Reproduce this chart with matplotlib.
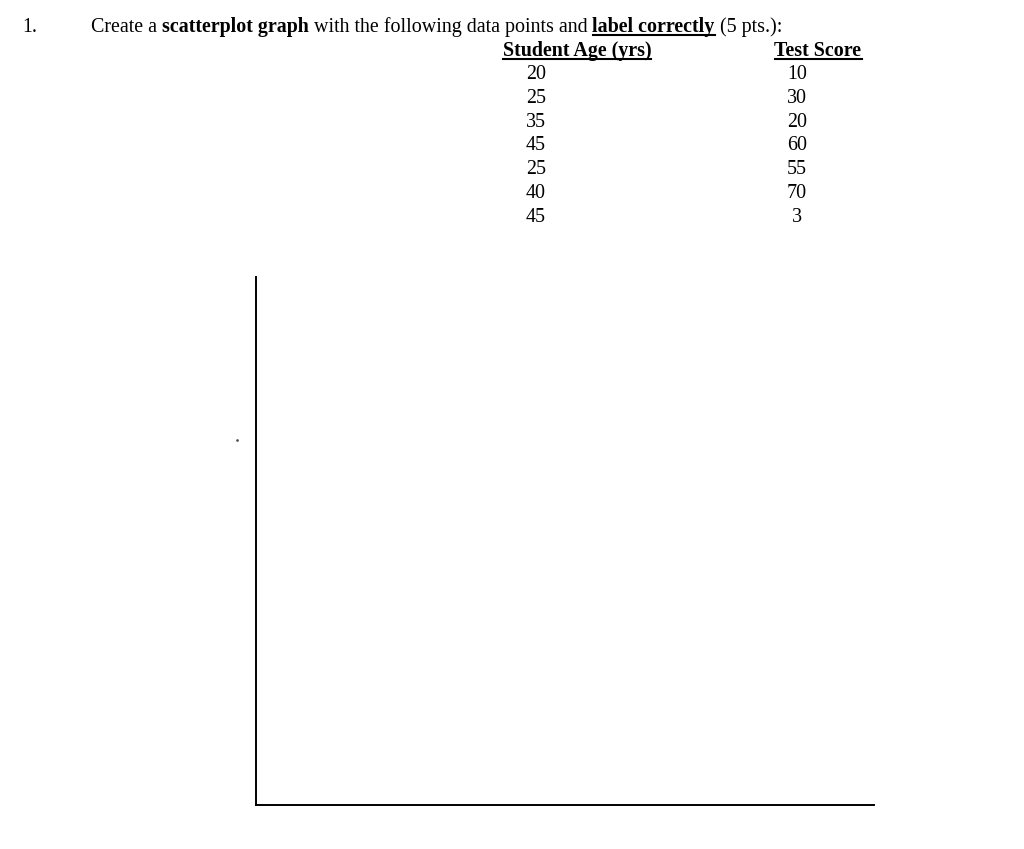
import matplotlib
matplotlib.use("Agg")
import matplotlib.pyplot as plt
from matplotlib.lines import Line2D

# ---- data ----
ages = [20, 25, 35, 45, 25, 40, 45]
scores = [10, 30, 20, 60, 55, 70, 3]
col_headers = ["Student Age (yrs)", "Test Score"]
question_num = "1."
question_parts = [
    ("Create a ", "normal", False),
    ("scatterplot graph", "bold", False),
    (" with the following data points and ", "normal", False),
    ("label correctly", "bold", True),
    (" (5 pts.):", "normal", False),
]

W, H = 1024, 849
FONT = "Liberation Serif"
FS = 14.45

fig = plt.figure(figsize=(W / 100, H / 100), dpi=100)
fig.patch.set_facecolor("white")


def fx(x):
    return x / W


def fy(y):
    return 1 - y / H


renderer = fig.canvas.get_renderer()


def underline(t):
    bb = t.get_window_extent(renderer=renderer)
    y = bb.y0 + 1.8
    fig.add_artist(Line2D([bb.x0 / W, bb.x1 / W], [y / H, y / H],
                          transform=fig.transFigure, color="black", lw=1.5))


# question line
fig.text(fx(22), fy(32), question_num, fontfamily=FONT, fontsize=FS,
         va="baseline", ha="left")
x = 91
for txt, weight, ul in question_parts:
    t = fig.text(fx(x), fy(32), txt, fontfamily=FONT, fontsize=FS,
                 fontweight=weight, va="baseline", ha="left")
    bb = t.get_window_extent(renderer=renderer)
    if ul:
        underline(t)
    x = bb.x1

# table headers
header_x = [577, 818]
for hx, h in zip(header_x, col_headers):
    t = fig.text(fx(hx), fy(56), h, fontfamily=FONT, fontsize=FS,
                 fontweight="bold", va="baseline", ha="center")
    underline(t)

row_y0 = 79
row_dy = 23.8
for i, (a, s) in enumerate(zip(ages, scores)):
    y = row_y0 + i * row_dy
    fig.text(fx(536), fy(y), str(a), fontfamily=FONT, fontsize=FS,
             va="baseline", ha="center")
    fig.text(fx(797), fy(y), str(s), fontfamily=FONT, fontsize=FS,
             va="baseline", ha="center")

# empty graph axes
left, right, top, bottom = 256, 874, 277, 805
ax = fig.add_axes([fx(left), fy(bottom), (right - left) / W, (bottom - top) / H])
ax.set_facecolor("white")
for s in ["top", "right"]:
    ax.spines[s].set_visible(False)
ax.spines["left"].set_linewidth(1.4)
ax.spines["bottom"].set_linewidth(1.4)
ax.set_xticks([])
ax.set_yticks([])
ax.set_xlim(0, 1)
ax.set_ylim(0, 1)

# tiny stray mark
fig.add_artist(Line2D([fx(237)], [fy(440)], transform=fig.transFigure,
                      marker="s", markersize=0.8, color="#444444", lw=0))

fig.savefig("out.png", dpi=100, facecolor="white")
